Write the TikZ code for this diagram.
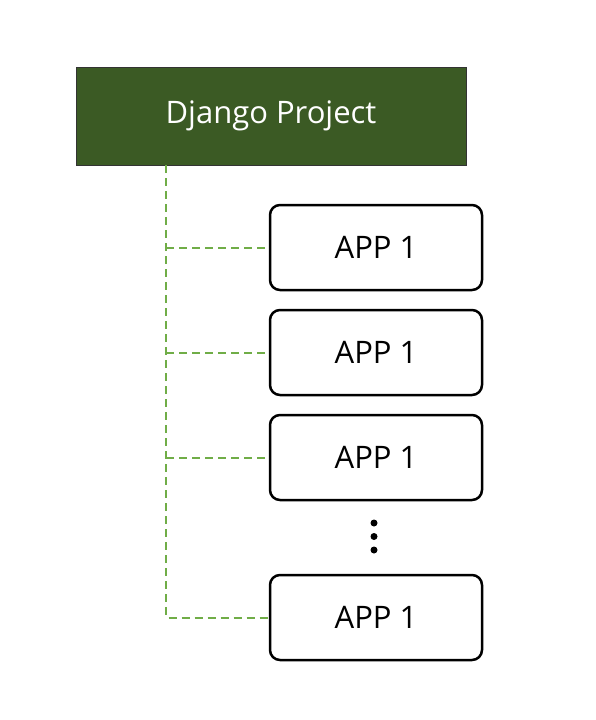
\documentclass[tikz,border=0pt]{standalone}
\usepackage{fontspec}
\setmainfont{Open Sans}
\definecolor{projgreen}{HTML}{3B5A24}
\definecolor{dashgreen}{HTML}{70AD47}
\begin{document}
\begin{tikzpicture}[x=1pt,y=-1pt,
  appbox/.style={draw=black,line width=2.5pt,rounded corners=10pt,minimum width=212pt,minimum height=85pt,inner sep=0pt,font=\fontsize{31}{36}\selectfont,fill=white},
  projbox/.style={draw=black!80,line width=0.8pt,fill=projgreen,text=white,minimum width=390pt,minimum height=98pt,inner sep=0pt,font=\fontsize{31}{36}\selectfont},
  link/.style={draw=dashgreen,line width=2pt,dash pattern=on 8pt off 5pt}]
\useasboundingbox (0,0) rectangle (595,720);
\node[projbox] (proj) at (271,116) {Django Project};
\node[appbox] (a1) at (376,247.5) {APP 1};
\node[appbox] (a2) at (376,352.5) {APP 1};
\node[appbox] (a3) at (376,457.5) {APP 1};
\node[appbox] (a4) at (376,617.5) {APP 1};
\coordinate (top) at (166,165);
\coordinate (bot) at (166,617.5);
\draw[link] (top) -- (bot) -- (a4.west);
\draw[link] (166,247.5) -- (a1.west);
\draw[link] (166,352.5) -- (a2.west);
\draw[link] (166,457.5) -- (a3.west);
\node[circle,fill=black,inner sep=0pt,minimum size=7pt] (d1) at (374,523) {};
\node[circle,fill=black,inner sep=0pt,minimum size=7pt] (d2) at (374,536.5) {};
\node[circle,fill=black,inner sep=0pt,minimum size=7pt] (d3) at (374,550) {};
\end{tikzpicture}
\end{document}
